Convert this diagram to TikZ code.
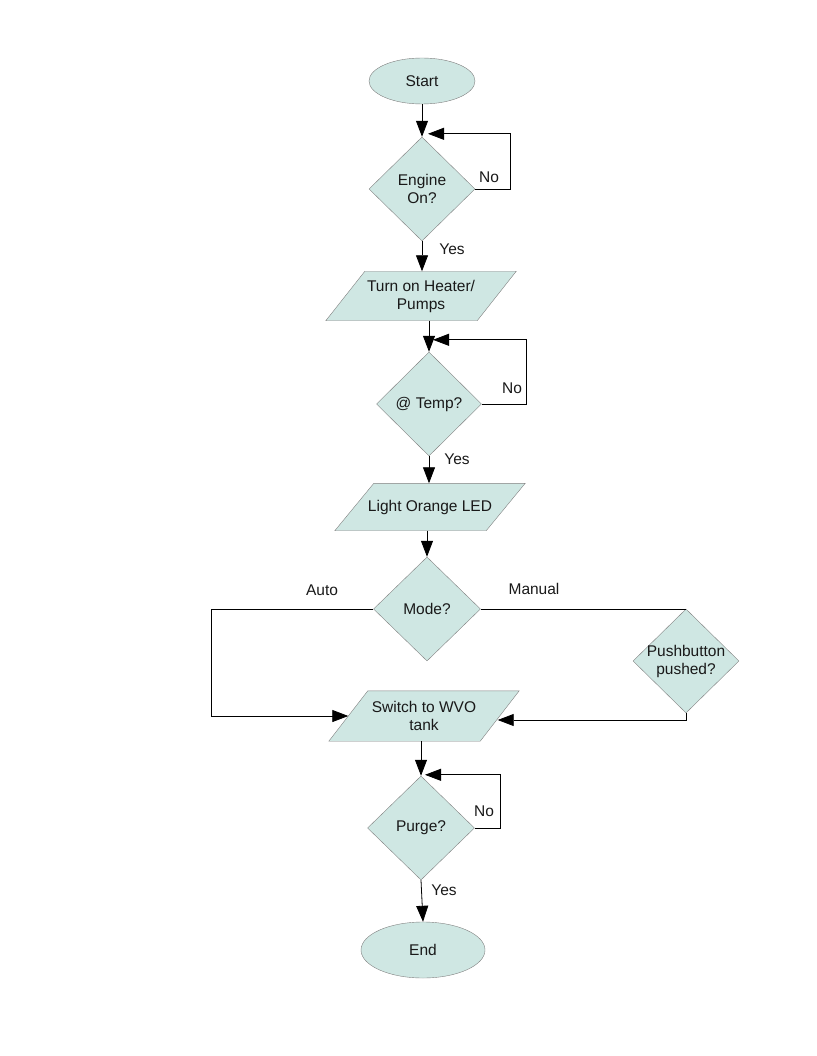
\documentclass[tikz,border=0pt]{standalone}
\usepackage{fontspec}
\setmainfont{Liberation Sans}
\usetikzlibrary{shapes.geometric,arrows.meta,calc,backgrounds}
\definecolor{boxfill}{HTML}{CFE7E3}
\definecolor{boxline}{HTML}{808080}
\newcommand\ioshape[1]{%
  \begin{scope}[on background layer]
    \filldraw[fill=boxfill,draw=boxline]
      ([xshift=-19.5pt]#1.south west) -- ([xshift=-19.5pt]#1.south east) --
      ([xshift=19.5pt]#1.north east) -- ([xshift=19.5pt]#1.north west) -- cycle;
  \end{scope}}
\begin{document}
\begin{tikzpicture}[x=1pt,y=-1pt,
  font=\fontsize{15.5}{18}\selectfont,
  every node/.style={text=black!90},
  term/.style={ellipse,draw=boxline,fill=boxfill,inner sep=0pt},
  dec/.style={diamond,draw=boxline,fill=boxfill,inner sep=0pt,minimum width=106pt,minimum height=104pt},
  io/.style={rectangle,inner sep=0pt,minimum width=151pt,minimum height=49pt,align=center},
  arr/.style={-{Triangle[length=16pt,width=12pt]},line width=0.8pt},
  ln/.style={line width=0.8pt},
  lab/.style={inner sep=0pt}]
\useasboundingbox (0,0) rectangle (816,1056);

\node[term,minimum width=106pt,minimum height=46pt] (start) at (422,81) {Start};
\node[dec,label={[align=center]center:Engine\\On?}] (eng) at (422,189) {};
\node[io] (heat) at (421,296) {Turn on Heater/\\Pumps};
\ioshape{heat}
\node[dec,minimum width=105pt,label={[align=center]center:@ Temp?}] (temp) at (429,404) {};
\node[io,minimum height=47pt] (led) at (430,507) {Light Orange LED};
\ioshape{led}
\node[dec,minimum width=107pt,label={[align=center]center:Mode?}] (mode) at (427,609) {};
\node[dec,label={[align=center]center:Pushbutton\\pushed?}] (push) at (686,661) {};
\node[io,minimum height=50pt] (wvo) at (424,716) {Switch to WVO\\tank};
\ioshape{wvo}
\node[dec,minimum width=107pt,label={[align=center]center:Purge?}] (purge) at (421,828) {};
\node[term,minimum width=124pt,minimum height=56pt] (end) at (423,950) {End};

% Start -> Engine
\draw[arr] (start.south) -- (eng.north);
\draw[arr] (eng.east) -- ++(35,0) |- ([xshift=6pt,yshift=3pt]eng.north);
\node[lab] (no1) at (489,177) {No};
\draw[arr] (eng.south) -- (heat.north -| eng.south);
\node[lab] (yes1) at (452,249) {Yes};

% Heater -> Temp
\draw[arr] (temp.north |- heat.south) -- (temp.north);
\draw[arr] (temp.east) -- ++(45,0) |- ([xshift=4pt,yshift=12pt]temp.north);
\node[lab] (no2) at (512,388) {No};
\draw[arr] (temp.south) -- (led.north -| temp.south);
\node[lab] (yes2) at (457,459) {Yes};

% LED -> Mode
\draw[arr] (mode.north |- led.south) -- (mode.north);
\draw[arr] (mode.west) -- (211,609) |- (wvo.west);
\node[lab] (auto) at (322,590) {Auto};
\draw[ln] (mode.east) -- (mode.east -| push.north);
\node[lab] (manual) at (534,589) {Manual};
\draw[arr] (push.south) |- ([xshift=-2pt,yshift=-4pt]wvo.east);

% WVO -> Purge
\draw[arr] (purge.north |- wvo.south) -- (purge.north);
\draw[arr] (purge.east) -- ++(26,0) |- ([xshift=4pt,yshift=1pt]purge.north);
\node[lab] (no3) at (484,811) {No};
\draw[arr] (purge.south) -- (end.north);
\node[lab] (yes3) at (444,890) {Yes};
\end{tikzpicture}
\end{document}
